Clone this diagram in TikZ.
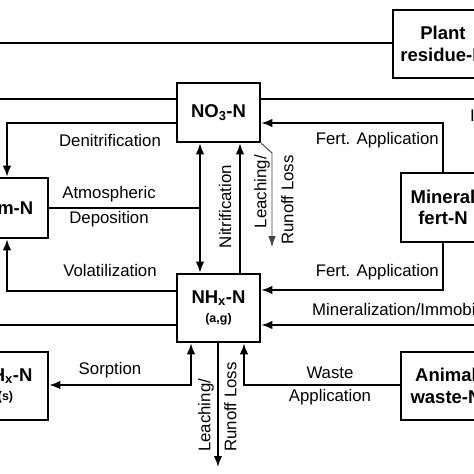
\documentclass[tikz,border=0pt]{standalone}
\usepackage{fontspec}
\setmainfont{Liberation Sans}
\usepackage{tikz}
\usetikzlibrary{positioning}
\usetikzlibrary{arrows.meta}
\tikzset{>=latex}
\tikzstyle{pool}=[draw, line width=2.6pt, align=center, inner sep=1pt, font=\fontsize{18.5}{21.5}\selectfont\bfseries]
\tikzstyle{flowlabel}=[inner sep=0pt, font=\fontsize{16.8}{20}\selectfont]
\tikzstyle{connect}=[line width=1.8pt]
\tikzstyle{connect arrow}=[-{Latex[length=11pt,width=8.5pt]},connect]
\tikzstyle{two way}=[{Latex[length=11pt,width=8.5pt]}-{Latex[length=11pt,width=8.5pt]},connect]
\tikzstyle{thin arrow}=[-{Latex[length=11pt,width=7.5pt]},line width=0.9pt,black!75]

\begin{document}
\begin{tikzpicture}[
    x=1pt, y=-1pt,
    node distance=2cm,
    on grid]

\useasboundingbox (0,0) rectangle (474,474);
\clip (0,0) rectangle (474,474);

\node[pool, minimum width=83pt, minimum height=59pt] (no3) at (218.5,112.5) {NO\textsubscript{3}-N};
\node[pool, minimum width=83pt, minimum height=68pt] (nhx) [below=195.5pt of no3] {NH\textsubscript{x}-N\\[-2pt]{\fontsize{12.5}{14}\selectfont (a,g)}};
\node[pool, minimum width=85pt, minimum height=60pt] (atm) at (5.5,208) {Atm-N};
\node[pool, minimum width=85pt, minimum height=68pt] (nhxs) at (5.5,386) {NH\textsubscript{x}-N\\[-2pt]{\fontsize{12.5}{14}\selectfont (s)}};
\node[pool, minimum width=100pt, minimum height=68pt] (plant) at (443,44) {Plant\\residue-N};
\node[pool, minimum width=84pt, minimum height=69pt] (mineral) at (443,207.5) {Mineral\\fert-N};
\node[pool, minimum width=90pt, minimum height=68pt] (animal) at (446,386) {Animal\\waste-N};

% free ends at the border of the crop
\coordinate (topL) at (0,43);
\coordinate (noL) at (0,99);
\coordinate (noR) at (474,99);
\coordinate (nhL) at (0,325);
\coordinate (minR) at (474,325);
% corners of the flows
\coordinate (denit) at (7,123);
\coordinate (volat) at (7,291);
\coordinate (dep) at (200,208);
\coordinate (nitr) at (240,208);
\coordinate (leachA) at (272,153);
\coordinate (leachAend) at (272,247);
\coordinate (leachB) at (218,467);
\coordinate (sorp) at (191,385);
\coordinate (waste) at (244,385);
\coordinate (fertA) at (443,123);
\coordinate (fertB) at (443,290);

\begin{scope}[connect]
    \draw (topL) -- (topL -| plant.west);
    \draw (noL) -- (noL -| no3.west);
    \draw (no3.east |- noR) -- (noR);
    \draw (nhL) -- (nhL -| nhx.west);
    \draw (atm.east |- dep) -- (dep);
\end{scope}

\begin{scope}[connect arrow]
    \draw (denit -| no3.west) -- (denit) -- (denit |- atm.north);
    \draw (volat -| nhx.west) -- (volat) -- (volat |- atm.south);
    \draw (nitr |- nhx.north) -- (nitr |- no3.south);
    \draw (leachB |- nhx.south) -- (leachB);
    \draw (animal.west |- waste) -- (waste) -- (waste |- nhx.south);
    \draw (mineral.north) -- (fertA) -- (fertA -| no3.east);
    \draw (mineral.south) -- (fertB) -- (fertB -| nhx.east);
    \draw (minR) -- (minR -| nhx.east);
\end{scope}
\draw[two way] (dep |- no3.south) -- (dep |- nhx.north);
\draw[two way] (sorp -| nhxs.east) -- (sorp) -- (sorp |- nhx.south);
\draw[thin arrow] (no3.south east) -- (leachA) -- (leachAend);

% flow labels
\node[flowlabel] (lblDenit) at (110,140) {Denitrification};
\node[flowlabel] (lblAtm) at (109,194) {Atmospheric};
\node[flowlabel] (lblDep) at (109,219) {Deposition};
\node[flowlabel] (lblVolat) at (110,270) {Volatilization};
\node[flowlabel] (lblSorp) at (110,370) {Sorption};
\node[flowlabel, rotate=90] (lblNitr) at (225,206.5) {Nitrification};
\node[flowlabel, rotate=90, anchor=south east] (lblLeachA) at (270,155) {Leaching/};
\node[flowlabel, rotate=90, anchor=north east] (lblRunA) at (281,155) {Runoff Loss};
\node[flowlabel, rotate=90, anchor=south west] (lblLeachB) at (214,452) {Leaching/};
\node[flowlabel, rotate=90, anchor=north west] (lblRunB) at (224,452) {Runoff Loss};
\node[flowlabel, anchor=east] (lblFertA) at (439,140) {Fert. Application};
\node[flowlabel, anchor=east] (lblFertB) at (439,272) {Fert. Application};
\node[flowlabel, anchor=west] (lblMin) at (312,309) {Mineralization/Immobilization};
\node[flowlabel, anchor=west] (lblImm) at (470,115) {Immobilization};
\node[flowlabel] (lblWaste) at (330,373) {Waste};
\node[flowlabel] (lblWasteApp) at (330,397) {Application};

\end{tikzpicture}
\end{document}
